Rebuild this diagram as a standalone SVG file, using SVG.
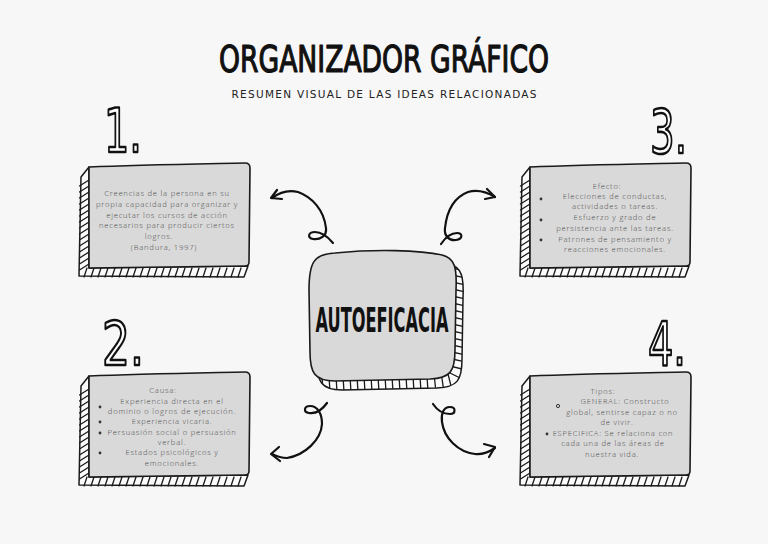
<svg xmlns="http://www.w3.org/2000/svg" xmlns:xlink="http://www.w3.org/1999/xlink" width="768" height="544" viewBox="0 0 768 544">
<style>
.bg{fill:#f7f7f7}
.face{fill:#d9d9d9;stroke:#1a1a1a;stroke-width:1.6;stroke-linejoin:round}
.shadow{fill:#fbfbfb;stroke:#1a1a1a;stroke-width:1.5;stroke-linejoin:round}
.hatch{fill:none;stroke:#1a1a1a;stroke-width:1.3;stroke-linecap:round}
.txt{font-family:"Open Sans","Liberation Sans",sans-serif;font-weight:300;font-size:7.6px;letter-spacing:0.8px;fill:#4a4a4a;text-anchor:middle}
.bul{fill:#333}
.num{font-family:"DejaVu Sans",sans-serif;font-size:60px;fill:#ffffff;stroke:#111;stroke-width:2.6;stroke-linejoin:round}
.arrow{fill:none;stroke:#111;stroke-width:2.2;stroke-linecap:round;stroke-linejoin:round}
</style>
<defs>
<g id="card">
<path class="shadow" d="M11,5 L3,15 L1,114 L166,115 L170,104 L11,106 Z"/>
<path class="hatch" d="M1.5,24 L11,18 M1.5,30 L11,24 M1.5,36 L11,30 M1.5,42 L11,36 M1.5,48 L11,42 M1.5,54 L11,48 M1.5,60 L11,54 M1.5,66 L11,60 M1.5,72 L11,66 M1.5,78 L11,72 M1.5,84 L11,78 M1.5,90 L11,84 M1.5,96 L11,90 M1.5,102 L11,96 M1.5,108 L11,102 M6,115 L9,106 M13,115 L16,106 M20,115 L23,106 M27,115 L30,106 M34,115 L37,106 M41,115 L44,106 M48,115 L51,106 M55,115 L58,106 M62,115 L65,106 M69,115 L72,106 M76,115 L79,106 M83,115 L86,106 M90,115 L93,106 M97,115 L100,106 M104,115 L107,106 M111,115 L114,106 M118,115 L121,106 M125,115 L128,106 M132,115 L135,106 M139,115 L142,106 M146,115 L149,106 M153,115 L156,106 M160,115 L163,106"/>
<path class="face" d="M11,5 C60,3 120,2 167,1 Q172,1 172,6 L171,100 Q171,104 167,104 L11,106 Z"/>
</g>
<path id="blobFace" d="M335,253 C375,249 420,250 442,255 C455,258 457,268 456,290 L455,350 C455,372 450,378 430,379 L335,381 C314,381 310,372 310,352 L309,290 C309,262 314,254 335,253 Z"/>
<clipPath id="blobClip"><use xlink:href="#blobFace" transform="translate(7,9)"/></clipPath>
</defs>
<rect class="bg" x="0" y="0" width="768" height="544"/>

<g id="title">
<text x="384" y="72" font-family="'DejaVu Sans Condensed','DejaVu Sans',sans-serif" font-size="38" fill="#111" stroke="#111" stroke-width="1.2" stroke-linejoin="round" text-anchor="middle" textLength="330" lengthAdjust="spacingAndGlyphs">ORGANIZADOR GRÁFICO</text>
<text x="384" y="98" font-family="'DejaVu Sans','Liberation Sans',sans-serif" font-size="10.5" fill="#222" text-anchor="middle" textLength="305" lengthAdjust="spacing">RESUMEN VISUAL DE LAS IDEAS RELACIONADAS</text>
</g>

<g id="connectors">
<path class="arrow" d="M272,198 C280,192 290,190 298,192 C312,197 324,210 326,228 C327,236 320,240 313,239 C307,238 308,232 315,232 C322,232 328,237 333,243"/>
<path class="arrow" d="M277,190 L271,198 L282,199"/>
<path class="arrow" d="M495,197 C485,191 475,190 468,192 C455,197 447,210 445,228 C444,236 449,241 456,240 C463,239 463,233 457,233 C450,233 445,238 441,244"/>
<path class="arrow" d="M487,189 L495,197 L485,199"/>
<path class="arrow" d="M327,403 C322,410 316,414 309,413 C303,412 304,406 310,406 C318,406 322,414 322,424 C321,440 305,455 287,458 C281,458 276,456 272,454"/>
<path class="arrow" d="M279,447 L271,454 L280,461"/>
<path class="arrow" d="M433,404 C437,410 442,414 450,414 C456,414 456,407 450,407 C443,407 441,414 442,422 C444,438 458,452 475,454 C483,455 489,452 495,448"/>
<path class="arrow" d="M484,444 L495,447 L489,457"/>
</g>

<g id="center">
<use xlink:href="#blobFace" class="shadow" transform="translate(7,9)"/>
<path class="hatch" clip-path="url(#blobClip)" d="M452,268 L466,271 M452,275 L466,278 M452,282 L466,285 M452,289 L466,292 M452,296 L466,299 M452,303 L466,306 M452,310 L466,313 M452,317 L466,320 M452,324 L466,327 M452,331 L466,334 M452,338 L466,341 M452,345 L466,348 M452,352 L466,355 M452,359 L466,362 M450,366 L466,370 M448,372 L464,380 M322,376 L323,392 M329,376 L330,392 M336,376 L337,392 M343,376 L344,392 M350,376 L351,392 M357,376 L358,392 M364,376 L365,392 M371,376 L372,392 M378,376 L379,392 M385,376 L386,392 M392,376 L393,392 M399,376 L400,392 M406,376 L407,392 M413,376 L414,392 M420,376 L421,392 M427,376 L428,392 M434,374 L436,392 M441,372 L444,392 M447,370 L452,390"/>
<use xlink:href="#blobFace" class="face"/>
<text x="382" y="332" font-family="'DejaVu Sans Condensed','DejaVu Sans',sans-serif" font-weight="bold" font-size="33" fill="#111" text-anchor="middle" textLength="133" lengthAdjust="spacingAndGlyphs">AUTOEFICACIA</text>
</g>

<g id="node1">
<text class="num" x="104" y="152" textLength="38" lengthAdjust="spacingAndGlyphs">1.</text>
<use xlink:href="#card" transform="translate(78,162)"/>
<text class="txt" x="167" y="196">Creencias de la persona en su</text>
<text class="txt" x="167" y="207">propia capacidad para organizar y</text>
<text class="txt" x="167" y="218">ejecutar los cursos de acción</text>
<text class="txt" x="167" y="228">necesarios para producir ciertos</text>
<text class="txt" x="159" y="239">logros.</text>
<text class="txt" x="164" y="250">(Bandura, 1997)</text>
</g>

<g id="node3">
<text class="num" x="650" y="153" textLength="37" lengthAdjust="spacingAndGlyphs">3.</text>
<use xlink:href="#card" transform="translate(519,162)"/>
<text class="txt" x="607" y="189">Efecto:</text>
<circle class="bul" cx="541" cy="199" r="1.4"/>
<text class="txt" x="615" y="199">Elecciones de conductas,</text>
<text class="txt" x="615" y="209">actividades o tareas.</text>
<circle class="bul" cx="541" cy="220" r="1.4"/>
<text class="txt" x="615" y="220">Esfuerzo y grado de</text>
<text class="txt" x="615" y="231">persistencia ante las tareas.</text>
<circle class="bul" cx="541" cy="240" r="1.4"/>
<text class="txt" x="615" y="242">Patrones de pensamiento y</text>
<text class="txt" x="615" y="252">reacciones emocionales.</text>
</g>

<g id="node2">
<text class="num" x="102" y="365" textLength="42" lengthAdjust="spacingAndGlyphs">2.</text>
<use xlink:href="#card" transform="translate(78,371)"/>
<text class="txt" x="163" y="393">Causa:</text>
<circle class="bul" cx="100" cy="407" r="1.4"/>
<text class="txt" x="172" y="404">Experiencia directa en el</text>
<text class="txt" x="172" y="414">dominio o logros de ejecución.</text>
<circle class="bul" cx="100" cy="422" r="1.4"/>
<text class="txt" x="172" y="424">Experiencia vicaria.</text>
<circle class="bul" cx="100" cy="433" r="1.4"/>
<text class="txt" x="172" y="435">Persuasión social o persuasión</text>
<text class="txt" x="172" y="445">verbal.</text>
<circle class="bul" cx="100" cy="453" r="1.4"/>
<text class="txt" x="172" y="455">Estados psicológicos y</text>
<text class="txt" x="172" y="466">emocionales.</text>
</g>

<g id="node4">
<text class="num" x="648" y="365" textLength="38" lengthAdjust="spacingAndGlyphs">4.</text>
<use xlink:href="#card" transform="translate(519,371)"/>
<text class="txt" x="603" y="394">Tipos:</text>
<circle cx="558" cy="406" r="1.6" fill="none" stroke="#333" stroke-width="1"/>
<text class="txt" x="625" y="404">GENERAL: Constructo</text>
<text class="txt" x="622" y="415">global, sentirse capaz o no</text>
<text class="txt" x="617" y="425">de vivir.</text>
<circle class="bul" cx="547" cy="434" r="1.4"/>
<text class="txt" x="613" y="436">ESPECIFICA: Se relaciona con</text>
<text class="txt" x="613" y="446">cada una de las áreas de</text>
<text class="txt" x="612" y="457">nuestra vida.</text>
</g>
</svg>
